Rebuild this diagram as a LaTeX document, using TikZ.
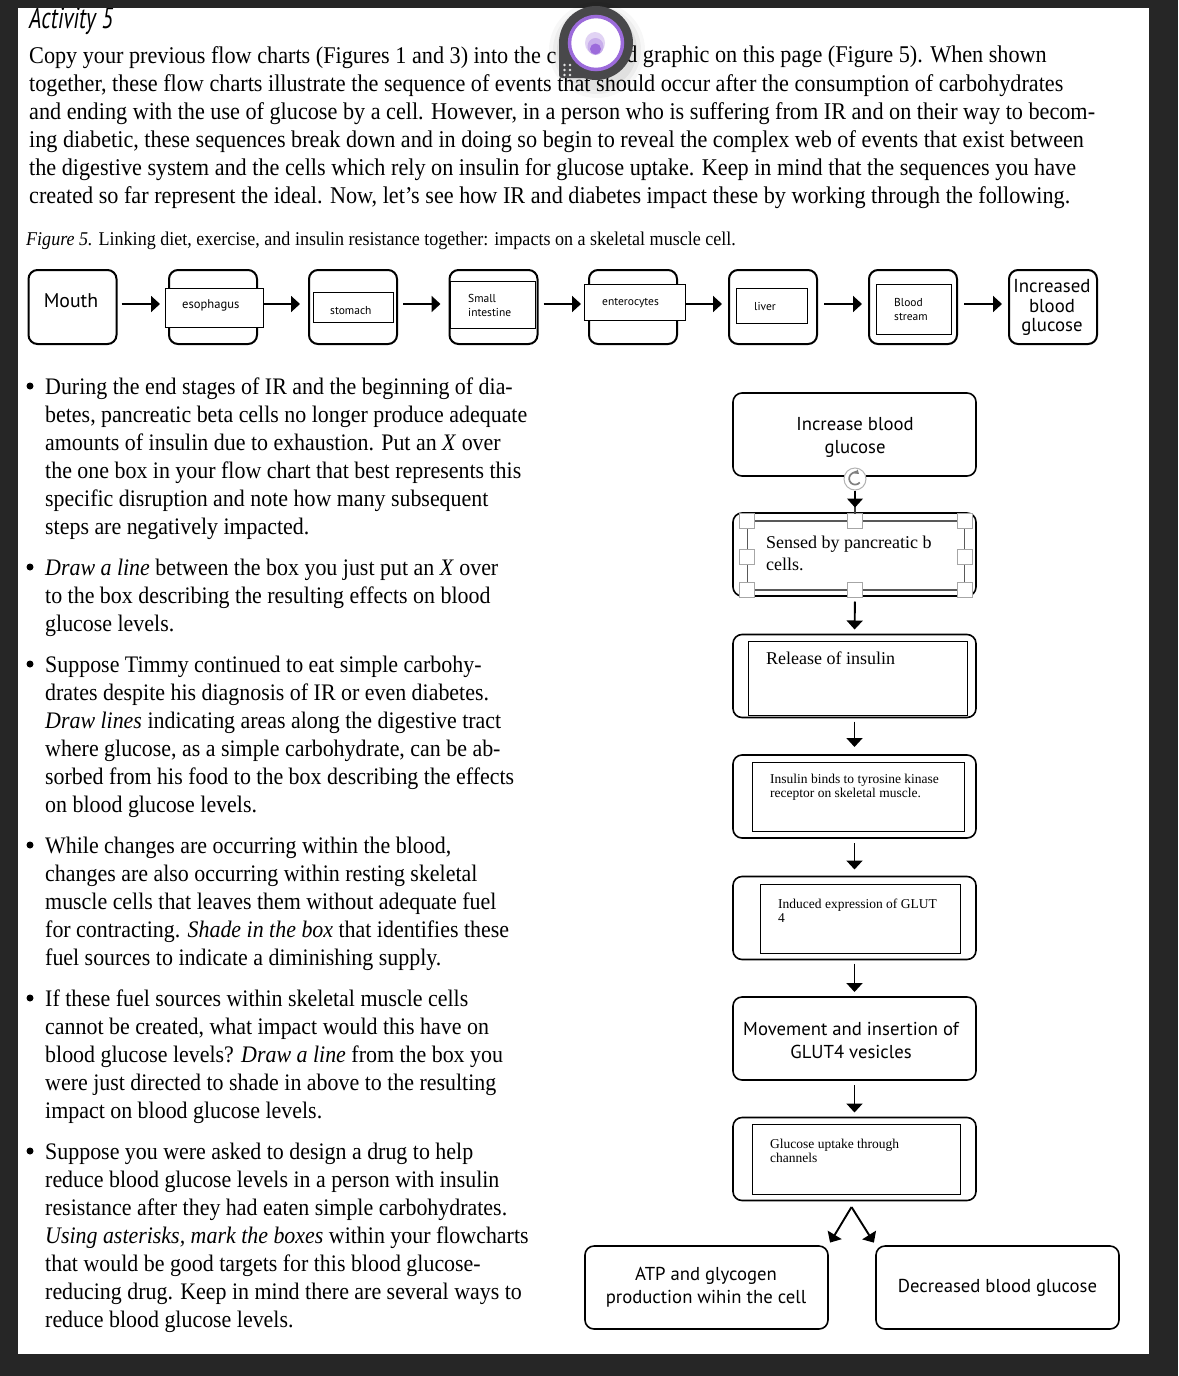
\documentclass[tikz,border=0pt]{standalone}
\usepackage{fontspec}
\setmainfont{Liberation Serif}
\setsansfont{PT Sans}
\newfontfamily\pagefont[FakeStretch=0.925]{Liberation Serif}
\usetikzlibrary{arrows.meta}
\definecolor{pageblack}{HTML}{262626}
\definecolor{widgetgray}{HTML}{48484A}
\definecolor{widgetpurple}{HTML}{9C6BDB}
\tikzset{
  flowbox/.style={draw,rounded corners=9pt,line width=1.6pt,fill=white,inner sep=0pt,outer sep=0pt,font=\sffamily\fontsize{18.7}{23}\selectfont,align=center},
  toprow/.style={flowbox,line width=2pt,minimum width=88pt,minimum height=74pt},
  tallbox/.style={flowbox,minimum width=243pt,minimum height=83pt},
  innerbox/.style={draw,line width=0.9pt,fill=white,inner sep=0pt,outer sep=0pt},
  handlebox/.style={draw=gray!70,fill=white,inner sep=0pt,outer sep=0pt,minimum size=15pt},
  flowarrow/.style={-{Triangle[width=16pt,length=9pt]},line width=1.9pt},
  bodytext/.style={anchor=north west,inner sep=0pt,align=left,font=\pagefont\fontsize{24}{28}\selectfont},
  columntext/.style={bodytext,font=\pagefont\fontsize{23.7}{28}\selectfont},
  smalltext/.style={anchor=west,inner sep=0pt,align=left,font=\sffamily\fontsize{11.5}{14}\selectfont},
  serifbox/.style={anchor=north west,inner sep=0pt,align=left,font=\fontsize{18}{22}\selectfont},
  seriftiny/.style={anchor=north west,inner sep=0pt,align=left,font=\fontsize{13.5}{14}\selectfont},
  sanslabel/.style={inner sep=0pt,align=center,font=\sffamily\fontsize{18.7}{23}\selectfont},
  bulletdot/.style={circle,fill=black,inner sep=0pt,minimum size=7pt}
}
\begin{document}
\begin{tikzpicture}[x=1pt,y=-1pt]
\useasboundingbox (0,0) rectangle (1178,1376);
\fill[pageblack] (0,0) rectangle (1178,1376);
\fill[white] (18,8) rectangle (1149,1354);

% heading and intro
\node[inner sep=0pt,anchor=base west,xscale=0.74,font=\sffamily\itshape\fontsize{30}{30}\selectfont] (activity) at (29,28) {Activity 5};
\fill[pageblack] (0,0) rectangle (1178,8);
\node[bodytext] (introa) at (29,46) {Copy your previous flow charts (Figures 1 and 3) into the c};
\node[bodytext,anchor=north east] (introb) at (1047,46) {d graphic on this page (Figure 5). When shown};
\node[bodytext] (introc) at (29,74) {together, these flow charts illustrate the sequence of events that should occur after the consumption of carbohydrates\\
and ending with the use of glucose by a cell. However, in a person who is suffering from IR and on their way to becom-\\
ing diabetic, these sequences break down and in doing so begin to reveal the complex web of events that exist between\\
the digestive system and the cells which rely on insulin for glucose uptake. Keep in mind that the sequences you have\\
created so far represent the ideal. Now, let’s see how IR and diabetes impact these by working through the following.};
\node[inner sep=0pt,anchor=base west,font=\pagefont\fontsize{19.5}{22}\selectfont] (caption) at (26,245) {\textit{Figure 5.} Linking diet, exercise, and insulin resistance together: impacts on a skeletal muscle cell.};

% top row
\coordinate (toparrow) at (0,304);
\node[toprow] (mouth) at (72.5,307) {};
\node[toprow] (esophagus) at (213,307) {};
\node[toprow] (stomach) at (353,307) {};
\node[toprow] (intestine) at (493.5,307) {};
\node[toprow] (enterocytes) at (633,307) {};
\node[toprow] (liver) at (773,307) {};
\node[toprow] (blood) at (913,307) {};
\node[toprow] (increased) at (1053,307) {};
\node[inner sep=0pt,align=center,font=\sffamily\fontsize{18.8}{19.3}\selectfont] (increasedlbl) at (1052,307.5) {Increased\\blood\\glucose};
\node[inner sep=0pt,font=\sffamily\fontsize{19.8}{20}\selectfont] (mouthlbl) at (71,300.5) {Mouth};
\node[innerbox,minimum width=98pt,minimum height=39pt] (esophagusin) at (214,307.5) {};
\node[innerbox,minimum width=80pt,minimum height=30pt] (stomachin) at (353,307) {};
\node[innerbox,minimum width=85pt,minimum height=47pt] (intestinein) at (493,304.5) {};
\node[innerbox,minimum width=101pt,minimum height=36pt] (enterocytesin) at (634.5,302) {};
\node[innerbox,minimum width=71pt,minimum height=35pt] (liverin) at (772,305.5) {};
\node[innerbox,minimum width=75pt,minimum height=50pt] (bloodin) at (914,309) {};
\node[smalltext,font=\sffamily\fontsize{12.6}{14}\selectfont] (esophaguslbl) at (182,305) {esophagus};
\node[smalltext] (stomachlbl) at (330,311) {stomach};
\node[smalltext] (intestinelbl) at (468,305) {Small\\intestine};
\node[smalltext] (enterocyteslbl) at (602,303) {enterocytes};
\node[smalltext] (liverlbl) at (754,306) {liver};
\node[smalltext] (bloodlbl) at (894,309) {Blood\\stream};
\draw[flowarrow,shorten <=5pt,shorten >=9pt] (mouth.east |- toparrow) -- (esophagus.west |- toparrow);
\draw[flowarrow,shorten >=9pt] (esophagusin.east |- toparrow) -- (stomach.west |- toparrow);
\draw[flowarrow,shorten <=6pt,shorten >=9pt] (stomach.east |- toparrow) -- (intestine.west |- toparrow);
\draw[flowarrow,shorten <=6pt,shorten >=8pt] (intestine.east |- toparrow) -- (enterocytes.west |- toparrow);
\draw[flowarrow,shorten >=7pt] (enterocytesin.east |- toparrow) -- (liver.west |- toparrow);
\draw[flowarrow,shorten <=7pt,shorten >=7pt] (liver.east |- toparrow) -- (blood.west |- toparrow);
\draw[flowarrow,shorten <=7pt,shorten >=7pt] (blood.east |- toparrow) -- (increased.west |- toparrow);

% bullets
\node[bulletdot] (dota) at (30,386) {};
\node[bulletdot] (dotb) at (30,567) {};
\node[bulletdot] (dotc) at (30,664) {};
\node[bulletdot] (dotd) at (30,845) {};
\node[bulletdot] (dote) at (30,998) {};
\node[bulletdot] (dotf) at (30,1151) {};
\node[columntext] (parta) at (45,377.5) {During the end stages of IR and the beginning of dia-\\
betes, pancreatic beta cells no longer produce adequate\\
amounts of insulin due to exhaustion. Put an \textit{X} over\\
the one box in your flow chart that best represents this\\
specific disruption and note how many subsequent\\
steps are negatively impacted.};
\node[columntext] (partb) at (45,559) {\textit{Draw a line} between the box you just put an \textit{X} over\\
to the box describing the resulting effects on blood\\
glucose levels.};
\node[columntext] (partc) at (45,655.5) {Suppose Timmy continued to eat simple carbohy-\\
drates despite his diagnosis of IR or even diabetes.\\
\textit{Draw lines} indicating areas along the digestive tract\\
where glucose, as a simple carbohydrate, can be ab-\\
sorbed from his food to the box describing the effects\\
on blood glucose levels.};
\node[columntext] (partd) at (45,837) {While changes are occurring within the blood,\\
changes are also occurring within resting skeletal\\
muscle cells that leaves them without adequate fuel\\
for contracting. \textit{Shade in the box} that identifies these\\
fuel sources to indicate a diminishing supply.};
\node[columntext] (parte) at (45,989.5) {If these fuel sources within skeletal muscle cells\\
cannot be created, what impact would this have on\\
blood glucose levels? \textit{Draw a line} from the box you\\
were just directed to shade in above to the resulting\\
impact on blood glucose levels.};
\node[columntext] (partf) at (45,1143) {Suppose you were asked to design a drug to help\\
reduce blood glucose levels in a person with insulin\\
resistance after they had eaten simple carbohydrates.\\
\textit{Using asterisks, mark the boxes} within your flowcharts\\
that would be good targets for this blood glucose-\\
reducing drug. Keep in mind there are several ways to\\
reduce blood glucose levels.};

% right column
\node[tallbox] (increase) at (854.5,434.5) {};
\node[tallbox] (sensed) at (854.5,554.5) {};
\node[tallbox] (release) at (854.5,676) {};
\node[tallbox] (binds) at (854.5,796.5) {};
\node[tallbox] (induced) at (854.5,918) {};
\node[tallbox] (movement) at (854.5,1038.5) {};
\node[tallbox] (uptake) at (854.5,1159) {};
\node[tallbox] (atp) at (706.5,1287.5) {};
\node[tallbox] (decreased) at (997.5,1287.5) {};
\node[sanslabel] (increaselbl) at (855,437.5) {Increase blood\\glucose};
\node[sanslabel] (movementlbl) at (851,1040) {Movement and insertion of\\GLUT4 vesicles};
\node[sanslabel] (atplbl) at (706,1287) {ATP and glycogen\\production wihin the cell};
\node[sanslabel] (decreasedlbl) at (997.5,1288) {Decreased blood glucose};

\node[innerbox,minimum width=217pt,minimum height=69pt,draw=black!65,line width=1.3pt] (sensedin) at (856,555.5) {};
\node[innerbox,minimum width=219pt,minimum height=74pt] (releasein) at (857.5,678) {};
\node[innerbox,minimum width=212pt,minimum height=69pt] (bindsin) at (858,796.5) {};
\node[innerbox,minimum width=200pt,minimum height=69pt] (inducedin) at (860,918.5) {};
\node[innerbox,minimum width=208pt,minimum height=70pt] (uptakein) at (856,1159) {};
\node[serifbox] (sensedlbl) at (766,536) {Sensed by pancreatic b\\cells.};
\node[serifbox] (releaselbl) at (766,652) {Release of insulin};
\node[seriftiny] (bindslbl) at (770,774) {Insulin binds to tyrosine kinase\\receptor on skeletal muscle.};
\node[seriftiny] (inducedlbl) at (778,899) {Induced expression of GLUT\\4};
\node[seriftiny] (uptakelbl) at (770,1139) {Glucose uptake through\\channels};

% selection handles
\node[handlebox] (handlea) at (747,521) {};
\node[handlebox] (handleb) at (855,521) {};
\node[handlebox] (handlec) at (965,521) {};
\node[handlebox] (handled) at (747,557) {};
\node[handlebox] (handlee) at (965,557) {};
\node[handlebox] (handlef) at (747,590) {};
\node[handlebox] (handleg) at (855,590) {};
\node[handlebox] (handleh) at (965,590) {};

% rotate handle
\node[circle,draw=gray!60,line width=1pt,fill=white,minimum size=22pt,inner sep=0pt] (rotator) at (855,479) {};
\draw[gray,line width=1.7pt,{Triangle[width=5pt,length=4pt]}-] (859,474) arc[start angle=-50,end angle=-320,radius=6];

% arrows between boxes
\draw[black!75,line width=1.2pt] (rotator.south) -- (handleb.north);
\draw[flowarrow,shorten >=6pt,line width=1.2pt] (rotator.south) -- (handleb.north);
\draw[flowarrow,shorten <=4pt,shorten >=5pt] (handleg.south) -- (release.north);
\draw[flowarrow,shorten <=4pt,shorten >=8pt] (release.south) -- (binds.north);
\draw[flowarrow,shorten <=5pt,shorten >=7pt] (binds.south) -- (induced.north);
\draw[flowarrow,shorten <=4pt,shorten >=5pt] (induced.south) -- (movement.north);
\draw[flowarrow,shorten <=5pt,shorten >=5pt] (movement.south) -- (uptake.north);
\coordinate (fork) at (851.5,1207);
\draw[flowarrow,shorten >=4pt] (fork) -- (atp.north east);
\draw[flowarrow,shorten >=4pt] (fork) -- (decreased.north west);

% floating widget
\foreach \r/\o in {48/0.03,44/0.04,40/0.05}
  \fill[black,opacity=\o] (597,50) circle (\r);
\fill[widgetgray] (596,43) circle (37);
\fill[widgetgray,rounded corners=3pt] (559,43) rectangle (596,78);
\node[circle,draw=widgetpurple,line width=3.5pt,fill=white,minimum size=53pt,inner sep=0pt] (ring) at (596,43) {};
\fill[widgetpurple!30] (595,43) ellipse (10 and 11);
\fill[widgetpurple!55] (595.5,46.5) ellipse (8 and 8.5);
\fill[widgetpurple] (595.5,49) circle (5.5);
\foreach \i in {0,1} \foreach \j in {0,1,2}
  \fill[white!80!gray] (564.5+5.5*\i,65+5*\j) circle (1.3);
\end{tikzpicture}
\end{document}
